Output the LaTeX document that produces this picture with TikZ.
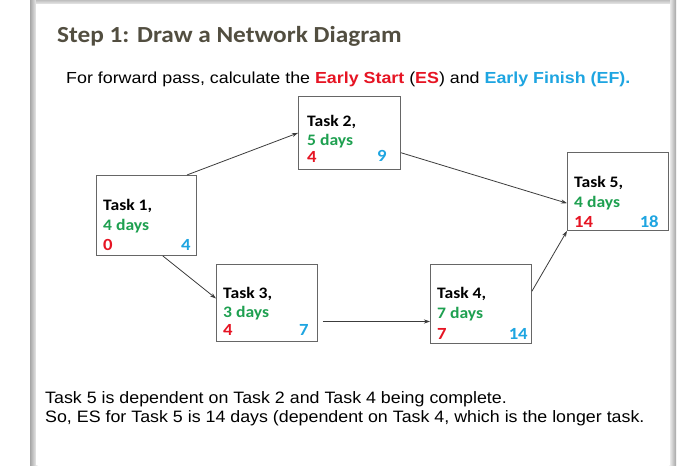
\documentclass[tikz,border=0pt]{standalone}
\usepackage{fontspec}
\setmainfont{Carlito}
\newfontfamily\arialfont{Liberation Sans}
\usepackage{graphicx}
\usepackage{xcolor}
\usepackage{tikz}
\usetikzlibrary{arrows.meta,positioning}

\definecolor{titlegray}{RGB}{82,78,64}
\definecolor{esred}{RGB}{230,20,35}
\definecolor{efblue}{RGB}{30,165,225}
\definecolor{daysgreen}{RGB}{30,160,80}
\definecolor{linegray}{RGB}{60,60,60}

% the slide text is a little wider than the fonts
\newcommand{\stretchtxt}[2][1.1]{\scalebox{#1}[1]{#2}}

\tikzset{
  taskbox/.style={draw=gray!80!black, line width=0.9pt, fill=white, inner sep=0pt},
  tasktxt/.style={font=\fontsize{16}{16}\selectfont\bfseries, inner sep=0pt, anchor=base west},
  numtxt/.style={font=\fontsize{17}{17}\selectfont\bfseries, inner sep=0pt},
  dep/.style={-{Stealth[length=6pt,width=4pt]}, draw=linegray, line width=0.8pt}
}

\begin{document}
\begin{tikzpicture}[x=1pt,y=-1pt]
% Netzplan, Vorwaertsrechnung der fruehesten Anfangs- und Endzeiten
\useasboundingbox (0,0) rectangle (700,465);
\fill[white] (0,0) rectangle (700,465);

\fill[left color=gray!70, right color=white] (30,0) rectangle (38,465);
\fill[left color=white, right color=gray!70] (668,0) rectangle (676,465);
\fill[top color=gray!50, bottom color=white] (36,0) rectangle (670,6);
\fill[white] (36,4) rectangle (670,465);

\node[font=\fontsize{23}{23}\selectfont\bfseries, text=titlegray, anchor=base west, inner sep=0pt]
  (title) at (57,43) {\stretchtxt{Step 1: Draw a Network Diagram}};
\node[font=\arialfont\fontsize{16}{16}\selectfont, anchor=base west, inner sep=0pt]
  (intro) at (66,84) {\stretchtxt[1.115]{For forward pass, calculate the \textcolor{esred}{\textbf{Early Start}} (\textcolor{esred}{\textbf{ES}}) and \textcolor{efblue}{\textbf{Early Finish (EF).}}}};

\node[taskbox, minimum width=100pt, minimum height=80pt, anchor=north west] (t1) at (96,175) {};
\node[taskbox, minimum width=102pt, minimum height=73pt, anchor=north west] (t2) at (298,96) {};
\node[taskbox, minimum width=101pt, minimum height=77pt, anchor=north west] (t3) at (216,264) {};
\node[taskbox, minimum width=101pt, minimum height=79pt, anchor=north west] (t4) at (430,264) {};
\node[taskbox, minimum width=101pt, minimum height=78pt, anchor=north west] (t5) at (567,152) {};

\node[tasktxt] (t1name) at ([shift={(7,35)}]t1.north west) {\stretchtxt{Task 1,}};
\node[tasktxt, text=daysgreen] (t1days) at ([shift={(7,55)}]t1.north west) {\stretchtxt{4 days}};
\node[numtxt, text=esred, anchor=base west] (t1es) at ([shift={(7,75)}]t1.north west) {\stretchtxt{0}};
\node[numtxt, text=efblue, anchor=base east] (t1ef) at ([shift={(-6,75)}]t1.north east) {\stretchtxt{4}};

\node[tasktxt] (t2name) at ([shift={(9,31)}]t2.north west) {\stretchtxt{Task 2,}};
\node[tasktxt, text=daysgreen] (t2days) at ([shift={(9,50)}]t2.north west) {\stretchtxt{5 days}};
\node[numtxt, text=esred, anchor=base west] (t2es) at ([shift={(9,66)}]t2.north west) {\stretchtxt{4}};
\node[numtxt, text=efblue, anchor=base east] (t2ef) at ([shift={(-14,65)}]t2.north east) {\stretchtxt{9}};

\node[tasktxt] (t3name) at ([shift={(7,34)}]t3.north west) {\stretchtxt{Task 3,}};
\node[tasktxt, text=daysgreen] (t3days) at ([shift={(7,53)}]t3.north west) {\stretchtxt{3 days}};
\node[numtxt, text=esred, anchor=base west] (t3es) at ([shift={(7,71)}]t3.north west) {\stretchtxt{4}};
\node[numtxt, text=efblue, anchor=base east] (t3ef) at ([shift={(-9,71)}]t3.north east) {\stretchtxt{7}};

\node[tasktxt] (t4name) at ([shift={(7,34)}]t4.north west) {\stretchtxt{Task 4,}};
\node[tasktxt, text=daysgreen] (t4days) at ([shift={(7,54)}]t4.north west) {\stretchtxt{7 days}};
\node[numtxt, text=esred, anchor=base west] (t4es) at ([shift={(7,75)}]t4.north west) {\stretchtxt{7}};
\node[numtxt, text=efblue, anchor=base east] (t4ef) at ([shift={(-4,75)}]t4.north east) {\stretchtxt{14}};

\node[tasktxt] (t5name) at ([shift={(7,35)}]t5.north west) {\stretchtxt{Task 5,}};
\node[tasktxt, text=daysgreen] (t5days) at ([shift={(7,55)}]t5.north west) {\stretchtxt{4 days}};
\node[numtxt, text=esred, anchor=base west] (t5es) at ([shift={(7,75)}]t5.north west) {\stretchtxt{14}};
\node[numtxt, text=efblue, anchor=base east] (t5ef) at ([shift={(-10,75)}]t5.north east) {\stretchtxt{18}};

\draw[dep] (t1.45) -- (t2.west);
\draw[dep] (t2.-21) -- (t5.193);
\draw[dep] (t1.-68) -- (t3.175);
\draw[dep, shorten <=5pt] (t3.-20) -- (t3.-20 -| t4.west);
\draw[dep] (t4.14) -- (t5.south west);

\node[font=\arialfont\fontsize{16.5}{19}\selectfont, anchor=base west, inner sep=0pt]
  (note1) at (45,403) {\stretchtxt[1.08]{Task 5 is dependent on Task 2 and Task 4 being complete.}};
\node[font=\arialfont\fontsize{16.5}{19}\selectfont, anchor=base west, inner sep=0pt]
  (note2) at (45,422) {\stretchtxt[1.08]{So, ES for Task 5 is 14 days (dependent on Task 4, which is the longer task.}};
\end{tikzpicture}
\end{document}
